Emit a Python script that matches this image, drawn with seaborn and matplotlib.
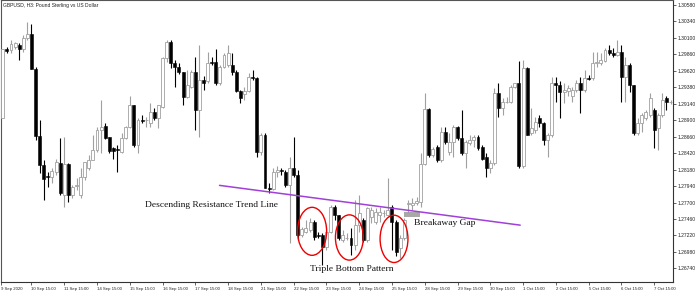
import matplotlib
matplotlib.use("Agg")
import matplotlib.pyplot as plt
from matplotlib.patches import Ellipse, Rectangle
import seaborn as sns
import pandas as pd
import numpy as np

# ---------------- data (GBPUSD H3) ----------------
opens = [1.2893, 1.2994, 1.2992, 1.2997, 1.2999, 1.2994, 1.3010, 1.3015, 1.2964, 1.2867,
         1.2824, 1.2808, 1.2807, 1.2814, 1.2827, 1.2781, 1.2826, 1.2781, 1.2794, 1.2781,
         1.2807, 1.2821, 1.2832, 1.2846, 1.2876, 1.2881, 1.2865, 1.2849, 1.2848, 1.2843,
         1.2864, 1.2880, 1.2912, 1.2854, 1.2890, 1.2890, 1.2886, 1.2902, 1.2893, 1.2909,
         1.2980, 1.3004, 1.2973, 1.2967, 1.2960, 1.2924, 1.2938, 1.2960, 1.2905, 1.2948,
         1.2947, 1.2975, 1.2975, 1.2944, 1.2967, 1.2970, 1.2970, 1.2961, 1.2932, 1.2928,
         1.2932, 1.2953, 1.2951, 1.2843, 1.2868, 1.2791, 1.2790, 1.2814, 1.2817, 1.2814,
         1.2795, 1.2821, 1.2810, 1.2723, 1.2727, 1.2730, 1.2741, 1.2723, 1.2723, 1.2705,
         1.2727, 1.2763, 1.2752, 1.2715, 1.2718, 1.2718, 1.2708, 1.2737, 1.2744, 1.2715,
         1.2749, 1.2741, 1.2752, 1.2754, 1.2752, 1.2763, 1.2741, 1.2703, 1.2718, 1.2768,
         1.2766, 1.2769, 1.2771, 1.2826, 1.2906, 1.2839, 1.2851, 1.2832, 1.2873, 1.2843,
         1.2858, 1.2880, 1.2864, 1.2842, 1.2857, 1.2861, 1.2865, 1.2851, 1.2836, 1.2820,
         1.2827, 1.2929, 1.2908, 1.2916, 1.2916, 1.2938, 1.2944, 1.2823, 1.2966, 1.2871,
         1.2876, 1.2893, 1.2886, 1.2861, 1.2868, 1.2945, 1.2941, 1.2931, 1.2932, 1.2926,
         1.2934, 1.2945, 1.2934, 1.2951, 1.2951, 1.2973, 1.2973, 1.2976, 1.2992, 1.2988,
         1.2985, 1.2989, 1.2953, 1.2970, 1.2941, 1.2871, 1.2886, 1.2893, 1.2897, 1.2905,
         1.2878, 1.2897, 1.2922, 1.2916]
highs = [1.2994, 1.2997, 1.3007, 1.3004, 1.3002, 1.3014, 1.3033, 1.3031, 1.2967, 1.2890,
         1.2832, 1.2814, 1.2821, 1.2834, 1.2864, 1.2865, 1.2827, 1.2795, 1.2806, 1.2820,
         1.2829, 1.2839, 1.2868, 1.2880, 1.2919, 1.2886, 1.2865, 1.2851, 1.2854, 1.2871,
         1.2881, 1.2925, 1.2912, 1.2893, 1.2897, 1.2894, 1.2915, 1.2908, 1.2912, 1.2982,
         1.3007, 1.3007, 1.2978, 1.2973, 1.2960, 1.2963, 1.2963, 1.2982, 1.2999, 1.2954,
         1.2989, 1.2982, 1.2994, 1.2970, 1.2988, 1.2999, 1.2988, 1.2963, 1.2934, 1.2938,
         1.2959, 1.2963, 1.2953, 1.2871, 1.2871, 1.2798, 1.2821, 1.2823, 1.2821, 1.2817,
         1.2836, 1.2865, 1.2817, 1.2734, 1.2744, 1.2747, 1.2744, 1.2727, 1.2725, 1.2730,
         1.2766, 1.2766, 1.2752, 1.2730, 1.2725, 1.2733, 1.2773, 1.2781, 1.2747, 1.2763,
         1.2763, 1.2762, 1.2763, 1.2759, 1.2806, 1.2766, 1.2744, 1.2723, 1.2747, 1.2773,
         1.2776, 1.2778, 1.2842, 1.2929, 1.2908, 1.2851, 1.2854, 1.2880, 1.2880, 1.2871,
         1.2883, 1.2881, 1.2905, 1.2861, 1.2868, 1.2868, 1.2868, 1.2854, 1.2842, 1.2832,
         1.2937, 1.2944, 1.2922, 1.2924, 1.2941, 1.2945, 1.2976, 1.2978, 1.2967, 1.2908,
         1.2894, 1.2897, 1.2887, 1.2871, 1.2953, 1.2953, 1.2947, 1.2944, 1.2941, 1.2938,
         1.2948, 1.2953, 1.2963, 1.2956, 1.2989, 1.2989, 1.2988, 1.2995, 1.2999, 1.2995,
         1.3007, 1.2999, 1.2982, 1.2973, 1.2941, 1.2893, 1.2900, 1.2905, 1.2929, 1.2908,
         1.2900, 1.2929, 1.2926, 1.2919]
lows = [1.2893, 1.2988, 1.2988, 1.2994, 1.2978, 1.2989, 1.3007, 1.2964, 1.2861, 1.2813,
        1.2773, 1.2792, 1.2798, 1.2810, 1.2781, 1.2763, 1.2771, 1.2776, 1.2788, 1.2776,
        1.2803, 1.2817, 1.2832, 1.2843, 1.2842, 1.2862, 1.2842, 1.2833, 1.2814, 1.2842,
        1.2862, 1.2878, 1.2851, 1.2842, 1.2886, 1.2880, 1.2880, 1.2890, 1.2878, 1.2908,
        1.2975, 1.2966, 1.2938, 1.2957, 1.2912, 1.2922, 1.2937, 1.2876, 1.2865, 1.2934,
        1.2945, 1.2970, 1.2942, 1.2941, 1.2966, 1.2967, 1.2956, 1.2931, 1.2915, 1.2919,
        1.2931, 1.2948, 1.2836, 1.2839, 1.2791, 1.2784, 1.2788, 1.2807, 1.2810, 1.2792,
        1.2711, 1.2807, 1.2715, 1.2720, 1.2725, 1.2727, 1.2715, 1.2718, 1.2679, 1.2701,
        1.2725, 1.2744, 1.2715, 1.2712, 1.2715, 1.2693, 1.2701, 1.2727, 1.2712, 1.2712,
        1.2740, 1.2738, 1.2741, 1.2749, 1.2750, 1.2701, 1.2692, 1.2689, 1.2715, 1.2754,
        1.2759, 1.2766, 1.2763, 1.2824, 1.2836, 1.2836, 1.2829, 1.2829, 1.2855, 1.2840,
        1.2836, 1.2861, 1.2839, 1.2821, 1.2854, 1.2851, 1.2846, 1.2832, 1.2807, 1.2813,
        1.2824, 1.2894, 1.2897, 1.2915, 1.2915, 1.2937, 1.2821, 1.2820, 1.2868, 1.2868,
        1.2871, 1.2880, 1.2854, 1.2836, 1.2865, 1.2916, 1.2893, 1.2915, 1.2926, 1.2916,
        1.2931, 1.2900, 1.2931, 1.2948, 1.2948, 1.2967, 1.2970, 1.2975, 1.2985, 1.2982,
        1.2983, 1.2916, 1.2916, 1.2931, 1.2868, 1.2868, 1.2873, 1.2890, 1.2894, 1.2849,
        1.2846, 1.2894, 1.2905, 1.2913]
closes = [1.2994, 1.2991, 1.3001, 1.3002, 1.2994, 1.3010, 1.3015, 1.2964, 1.2867, 1.2824,
          1.2804, 1.2807, 1.2816, 1.2829, 1.2784, 1.2826, 1.2781, 1.2792, 1.2795, 1.2807,
          1.2829, 1.2832, 1.2846, 1.2876, 1.2880, 1.2864, 1.2845, 1.2845, 1.2846, 1.2864,
          1.2880, 1.2912, 1.2854, 1.2890, 1.2889, 1.2890, 1.2902, 1.2893, 1.2912, 1.2980,
          1.3004, 1.2973, 1.2967, 1.2960, 1.2924, 1.2941, 1.2960, 1.2905, 1.2948, 1.2945,
          1.2973, 1.2973, 1.2944, 1.2967, 1.2985, 1.2988, 1.2961, 1.2932, 1.2922, 1.2932,
          1.2953, 1.2951, 1.2843, 1.2868, 1.2791, 1.2790, 1.2814, 1.2817, 1.2816, 1.2795,
          1.2821, 1.2810, 1.2723, 1.2731, 1.2733, 1.2741, 1.2720, 1.2721, 1.2705, 1.2727,
          1.2763, 1.2752, 1.2718, 1.2723, 1.2718, 1.2708, 1.2737, 1.2754, 1.2715, 1.2762,
          1.2759, 1.2756, 1.2756, 1.2755, 1.2759, 1.2741, 1.2698, 1.2718, 1.2744, 1.2769,
          1.2769, 1.2772, 1.2826, 1.2906, 1.2839, 1.2848, 1.2832, 1.2873, 1.2858, 1.2858,
          1.2880, 1.2864, 1.2842, 1.2858, 1.2861, 1.2865, 1.2849, 1.2834, 1.2820, 1.2827,
          1.2929, 1.2908, 1.2916, 1.2917, 1.2938, 1.2944, 1.2823, 1.2966, 1.2868, 1.2878,
          1.2887, 1.2886, 1.2861, 1.2868, 1.2945, 1.2941, 1.2931, 1.2934, 1.2937, 1.2934,
          1.2945, 1.2934, 1.2951, 1.2950, 1.2973, 1.2975, 1.2978, 1.2992, 1.2988, 1.2985,
          1.2989, 1.2953, 1.2970, 1.2941, 1.2871, 1.2886, 1.2897, 1.2902, 1.2922, 1.2876,
          1.2897, 1.2919, 1.2916, 1.2917]

date_labels = ["9 Sep 2020", "10 Sep 15:00", "11 Sep 15:00", "14 Sep 15:00", "15 Sep 15:00",
               "16 Sep 15:00", "17 Sep 15:00", "18 Sep 15:00", "21 Sep 15:00", "22 Sep 15:00",
               "23 Sep 15:00", "24 Sep 15:00", "25 Sep 15:00", "28 Sep 15:00", "29 Sep 15:00",
               "30 Sep 15:00", "1 Oct 15:00", "2 Oct 15:00", "5 Oct 15:00", "6 Oct 15:00",
               "7 Oct 15:00"]
date_label_bars = [-0.55, 7, 15, 23, 31, 39, 47, 55, 63, 71, 79, 87, 95, 103, 111, 119,
                   127, 135, 143, 151, 159]
price_ticks = [1.26740, 1.26980, 1.27220, 1.27460, 1.27700, 1.27940, 1.28180, 1.28420,
               1.28660, 1.28900, 1.29140, 1.29380, 1.29620, 1.29860, 1.30100, 1.30340, 1.30580]

title = "GBPUSD, H3: Pound Sterling vs US Dollar"

df = pd.DataFrame({"open": opens, "high": highs, "low": lows, "close": closes})
df["bar"] = np.arange(len(df))
df["bull"] = df["close"] >= df["open"]

# ---------------- style ----------------
sns.set_style("white")
plt.rcParams["font.family"] = ["Liberation Sans", "DejaVu Sans"]

fig = plt.figure(figsize=(7.0, 2.95), dpi=100)
ax = fig.add_axes([0.5 / 700, 13 / 295, 672.5 / 700, 282 / 295])

bull_col = "#a0a0a0"
bear_col = "#000000"

# wicks
for is_bull, col in [(True, bull_col), (False, bear_col)]:
    d = df[df["bull"] == is_bull]
    ax.vlines(d["bar"], d["low"], d["high"], colors=col, linewidth=0.8, zorder=2)

# bodies
body_w = 0.72
min_h = 0.00004
for is_bull in (True, False):
    d = df[df["bull"] == is_bull]
    bottom = np.minimum(d["open"], d["close"])
    height = np.maximum(np.abs(d["close"] - d["open"]), min_h)
    if is_bull:
        ax.bar(d["bar"], height, bottom=bottom, width=body_w, color="white",
               edgecolor=bull_col, linewidth=0.6, zorder=3)
    else:
        ax.bar(d["bar"], height, bottom=bottom, width=body_w, color=bear_col,
               edgecolor=bear_col, linewidth=0.4, zorder=3)

# ---------------- annotations ----------------
trend = pd.DataFrame({"bar": [52.9, 126.3], "price": [1.2795, 1.2737]})
sns.lineplot(data=trend, x="bar", y="price", ax=ax, color="#a040d8", linewidth=1.1,
             zorder=4, legend=False)

ax.add_patch(Rectangle((97.9, 1.27495), 3.9, 0.00065, facecolor="#a8a8a8",
                       edgecolor="none", zorder=1))

for cx, cy, w, h in [(75.5, 1.2728, 7.1, 0.0070), (84.6, 1.2719, 6.8, 0.0066),
                     (95.5, 1.2717, 6.8, 0.0069)]:
    ax.add_patch(Ellipse((cx, cy), w, h, facecolor="none", edgecolor="#ee0000",
                         linewidth=1.0, zorder=5))

serif = ["Liberation Serif", "DejaVu Serif"]
ax.text(34.6, 1.2766, "Descending Resistance Trend Line", family=serif, fontsize=6.8,
        ha="left", va="center", color="#111111", zorder=6)
ax.text(100.4, 1.2740, "Breakaway Gap", family=serif, fontsize=6.8,
        ha="left", va="center", color="#111111", zorder=6)
ax.text(75.0, 1.2673, "Triple Bottom Pattern", family=serif, fontsize=6.8,
        ha="left", va="center", color="#111111", zorder=6)

fig.text(3 / 700, 1 - 5 / 295, title, fontsize=3.6, ha="left", va="center", color="#222222")

# ---------------- axes ----------------
ax.set_xlim(-0.56, 163.6)
ax.set_ylim(1.26541, 1.30653)
ax.set_xlabel("")
ax.set_ylabel("")

ax.set_xticks(date_label_bars)
ax.set_xticklabels(date_labels)
for lab in ax.get_xticklabels():
    lab.set_horizontalalignment("left")
ax.tick_params(axis="x", direction="out", length=2.5, width=0.5, pad=1.0,
               labelsize=3.1, colors="#222222", bottom=True)

ax.yaxis.tick_right()
ax.set_yticks(price_ticks)
ax.set_yticklabels([f"{p:.5f}" for p in price_ticks])
ax.tick_params(axis="y", direction="out", length=2.5, width=0.5, pad=1.0,
               labelsize=3.6, colors="#222222", right=True, left=False)

for side, sp in ax.spines.items():
    sp.set_visible(True)
    sp.set_linewidth(0.8)
    sp.set_color("#555555")
ax.spines["bottom"].set_color("#333333")
ax.spines["right"].set_color("#333333")

fig.savefig("out.png", dpi=100)
